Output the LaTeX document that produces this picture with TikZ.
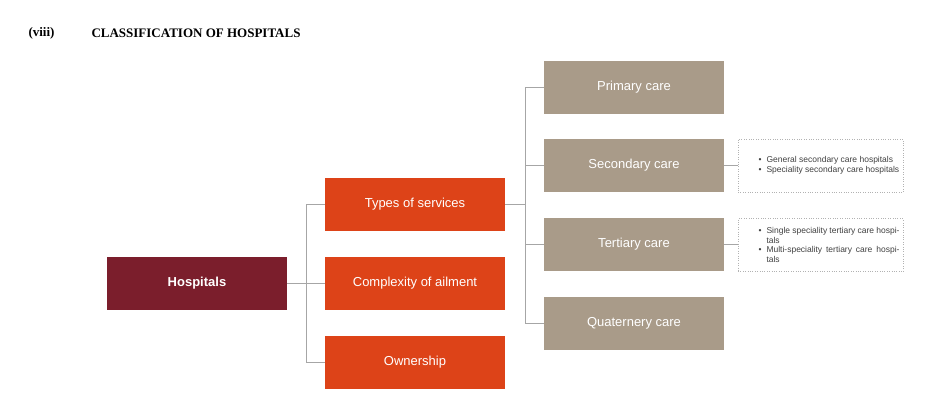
\documentclass[tikz,border=0pt]{standalone}
\usepackage{fontspec}
\setmainfont{Liberation Serif}
\newfontfamily\arialf{Liberation Sans}
\begin{document}
\begin{tikzpicture}[x=1pt,y=-1pt,
  box/.style={minimum width=180pt,minimum height=53pt,inner sep=0pt,text=white,font=\arialf\fontsize{13}{15}\selectfont},
  hosp/.style={box,fill=hospred,font=\arialf\bfseries\fontsize{13}{15}\selectfont},
  red/.style={box,fill=svcred},
  taupe/.style={box,fill=taupec},
  note/.style={draw=gray!60,dotted,minimum width=165pt,minimum height=53pt,inner sep=2pt,font=\arialf\fontsize{8.5}{9.5}\selectfont,text=black!75},
  conn/.style={draw=gray!70,line width=0.7pt}]
\definecolor{hospred}{HTML}{7B1E2C}
\definecolor{svcred}{HTML}{DD4318}
\definecolor{taupec}{HTML}{A99B89}
\useasboundingbox (0,0) rectangle (940,402);
\node[anchor=west,font=\bfseries\fontsize{13}{15}\selectfont] (t1) at (25,33) {(viii)};
\node[anchor=west,font=\bfseries\fontsize{13}{15}\selectfont] (t2) at (88,33) {CLASSIFICATION OF HOSPITALS};
\node[hosp] (h) at (197,283.5) {Hospitals};
\node[red] (s) at (415,204.5) {Types of services};
\node[red] (c) at (415,283.5) {Complexity of ailment};
\node[red] (o) at (415,362.5) {Ownership};
\node[taupe] (p) at (634,87.5) {Primary care};
\node[taupe] (sc) at (634,165.5) {Secondary care};
\node[taupe] (tc) at (634,244.5) {Tertiary care};
\node[taupe] (q) at (634,323.5) {Quaternery care};
\node[note] (n1) at (820.5,165.5) {\begin{minipage}{158pt}\begin{itemize}\setlength{\itemsep}{0pt}\setlength{\parskip}{0pt}\setlength{\leftmargin}{15pt}\item[\textbullet] General secondary care hospitals\item[\textbullet] Speciality secondary care hospitals\end{itemize}\end{minipage}};
\node[note] (n2) at (820.5,245) {\begin{minipage}{158pt}\begin{itemize}\setlength{\itemsep}{0pt}\setlength{\parskip}{0pt}\item[\textbullet] Single speciality tertiary care hospitals\item[\textbullet] Multi-speciality tertiary care hospitals\end{itemize}\end{minipage}};
\coordinate (j1) at (306,0);
\coordinate (j2) at (525,0);
\draw[conn] (h.east) -- (h.east -| j1);
\draw[conn] (s.west -| j1) -- (o.west -| j1);
\foreach \n in {s,c,o} \draw[conn] (\n.west -| j1) -- (\n.west);
\draw[conn] (s.east) -- (s.east -| j2);
\draw[conn] (p.west -| j2) -- (q.west -| j2);
\foreach \n in {p,sc,tc,q} \draw[conn] (\n.west -| j2) -- (\n.west);
\draw[conn] (sc.east) -- (n1.west);
\draw[conn] (tc.east) -- (tc.east -| n2.west);
\end{tikzpicture}
\end{document}
